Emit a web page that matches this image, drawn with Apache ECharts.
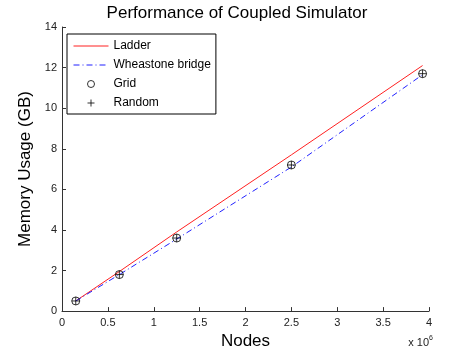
<!DOCTYPE html>
<html><head><meta charset="utf-8">
<script src="https://cdn.jsdelivr.net/npm/echarts@6/dist/echarts.min.js"></script>
<style>html,body{margin:0;padding:0;background:#fff}#c{width:474px;height:355px}</style>
</head><body><div id="c"></div>
<script>
var nodes = [150000, 625000, 1250000, 2500000, 3930000];
var ladder = [0.5, 1.95, 3.9, 7.7, 12.1];
var wheatstone = [0.5, 1.8, 3.55, 7.1, 11.65];
var grid = [0.5, 1.8, 3.6, 7.2, 11.7];
var random = [0.5, 1.8, 3.6, 7.2, 11.7];
var xTicks = [0, 0.5, 1, 1.5, 2, 2.5, 3, 3.5, 4];
var yTicks = [0, 2, 4, 6, 8, 10, 12, 14];
var seriesNames = ['Ladder', 'Wheastone bridge', 'Grid', 'Random'];

function pairs(ys){ return nodes.map(function(x,i){ return [x, ys[i]]; }); }
var F = 'Liberation Sans, Arial, Helvetica, sans-serif';
var chart = echarts.init(document.getElementById('c'));
chart.setOption({
  animation: false,
  textStyle: {fontFamily: F},
  title: {text: 'Performance of Coupled Simulator', left: 'center', top: 0,
    textStyle: {fontFamily: F, fontSize: 17, fontWeight: 'normal', color: '#000'}},
  grid: {left: 62, right: 45, top: 27, bottom: 40},
  legend: {
    orient: 'vertical', left: 67, top: 34,
    data: [
      {name: seriesNames[0], itemStyle: {opacity: 0}, lineStyle: {width: 1}},
      {name: seriesNames[1], itemStyle: {opacity: 0}, lineStyle: {width: 1}},
      {name: seriesNames[2], itemStyle: {borderWidth: 1}},
      {name: seriesNames[3], itemStyle: {borderWidth: 1}}
    ],
    borderColor: '#000', borderWidth: 1, padding: [5, 5, 4, 6],
    itemWidth: 35, itemHeight: 7, itemGap: 5,
    textStyle: {fontFamily: F, fontSize: 12, color: '#000', lineHeight: 14}
  },
  xAxis: {
    type: 'value', min: 0, max: 4000000, interval: 500000,
    name: 'Nodes', nameLocation: 'middle', nameGap: 17,
    nameTextStyle: {fontFamily: F, fontSize: 17, color: '#000'},
    axisLine: {lineStyle: {color: '#333', width: 1}},
    axisTick: {inside: true, length: 4, lineStyle: {color: '#333'}},
    splitLine: {show: false},
    axisLabel: {fontFamily: F, fontSize: 11, color: '#222', margin: 6,
      formatter: function(v){ var t = v/1e6; return xTicks.indexOf(t) >= 0 ? String(t) : ''; }}
  },
  yAxis: {
    type: 'value', min: 0, max: 14, interval: 2,
    name: 'Memory Usage (GB)', nameLocation: 'middle', nameGap: 25,
    nameTextStyle: {fontFamily: F, fontSize: 17, color: '#000'},
    axisLine: {show: true, lineStyle: {color: '#333', width: 1}},
    axisTick: {show: true, inside: true, length: 4, lineStyle: {color: '#333'}},
    splitLine: {show: false},
    axisLabel: {fontFamily: F, fontSize: 11, color: '#222', margin: 5,
      formatter: function(v){ return yTicks.indexOf(v) >= 0 ? String(v) : ''; }}
  },
  graphic: [{
    type: 'text', right: 41, top: 335,
    style: {text: '{a|x 10}{b|6}', rich: {
      a: {fontFamily: F, fontSize: 11, fill: '#222'},
      b: {fontFamily: F, fontSize: 7, fill: '#222', verticalAlign: 'top', padding: [0,0,8,0]}
    }}
  }],
  series: [
    {name: 'Ladder', type: 'line', data: pairs(ladder), symbol: 'none',
      lineStyle: {color: '#ff2020', width: 1}, itemStyle: {color: '#ff2020'}, z: 2},
    {name: 'Wheastone bridge', type: 'line', data: pairs(wheatstone), symbol: 'none',
      lineStyle: {color: '#2020ff', width: 1, type: [6, 3, 1, 3]}, itemStyle: {color: '#2020ff'}, z: 2},
    {name: 'Grid', type: 'scatter', data: pairs(grid), symbol: 'circle', symbolSize: 8,
      itemStyle: {color: 'rgba(255,255,255,0)', borderColor: '#000', borderWidth: 1}, z: 3},
    {name: 'Random', type: 'scatter', data: pairs(random),
      symbol: 'path://M5,0L5,10M0,5L10,5', symbolSize: 8,
      itemStyle: {color: 'none', borderColor: '#000', borderWidth: 1}, z: 4}
  ]
});
</script></body></html>
